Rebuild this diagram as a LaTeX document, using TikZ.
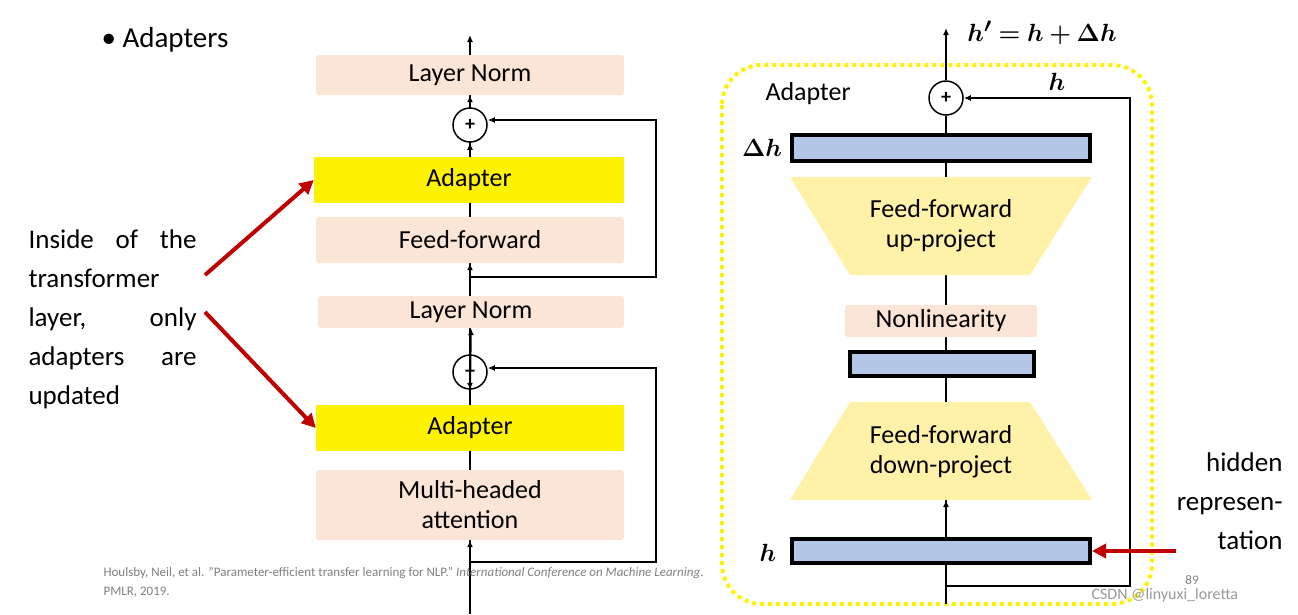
\documentclass[tikz,border=0pt]{standalone}
\usepackage{amsmath,bm}
\usepackage{fontspec}
\setmainfont{Carlito}
\usetikzlibrary{arrows.meta}
\definecolor{peach}{HTML}{FBE5D6}
\definecolor{ylw}{HTML}{FFF200}
\definecolor{lyel}{HTML}{FFF2A8}
\definecolor{lblue}{HTML}{B4C7E7}
\definecolor{darkred}{HTML}{C00000}
\begin{document}
\begin{tikzpicture}[x=1pt,y=-1pt,
 txt/.style={font=\fontsize{26}{28}\selectfont},
 pbox/.style={fill=peach,draw=none,rounded corners=3pt,txt},
 ybox/.style={fill=ylw,draw=none,txt},
 bbox/.style={fill=lblue,draw=black,line width=4pt},
 plus/.style={circle,draw=black,line width=1.5pt,fill=white,minimum size=34pt,inner sep=0pt,font=\bfseries\fontsize{20}{20}\selectfont},
 ln/.style={line width=1.6pt},
 arr/.style={ln,-{Latex[length=7pt,width=6pt]}},
 redarr/.style={line width=4pt,darkred,-{Triangle[length=14pt,width=14pt]}},
 trap/.style={fill=lyel,draw=none}]
\useasboundingbox (0,0) rectangle (1298,614);
\fill[white] (0,0) rectangle (1298,614);
% left column
\coordinate (lb) at (470,614);
\coordinate (lt) at (470,35);
\draw[arr] (lb) -- (lt);
\node[pbox,minimum width=308pt,minimum height=40pt] (ln1) at (470,75) {Layer Norm};
\node[plus] (p1) at (470,125) {+};
\node[ybox,minimum width=310pt,minimum height=46pt] (ad1) at (469,180) {Adapter};
\node[pbox,minimum width=308pt,minimum height=46pt] (ff) at (470,240) {Feed-forward};
\node[pbox,minimum width=306pt,minimum height=32pt] (ln2) at (471,312) {Layer Norm};
\node[plus] (p2) at (470,372) {+};
\node[ybox,minimum width=308pt,minimum height=46pt] (ad2) at (470,428) {Adapter};
\node[pbox,minimum width=308pt,minimum height=70pt,align=center] (mh) at (470,505) {Multi-headed\\[2pt]attention};
\draw[arr] (470,105) -- (ln1.south);
\draw[arr] (470,157) -- (p1.south);
\draw[arr] (470,277) -- (ff.south);
\draw[arr] (470,350) -- (p2.south);
\draw[arr] (470,405) -- (ln2.south);
\draw[arr] (470,562) -- (mh.south);
\coordinate (s1a) at (470,277); \coordinate (s1b) at (656,277); \coordinate (s1c) at (656,120);
\draw[arr] (s1a) -- (s1b) -- (s1c) -- (p1.east|-s1c);
\coordinate (s2a) at (470,562); \coordinate (s2b) at (656,562); \coordinate (s2c) at (656,368);
\draw[arr] (s2a) -- (s2b) -- (s2c) -- (p2.east|-s2c);
\node[anchor=west,font=\fontsize{29}{30}\selectfont] (title) at (98,40) {\textbullet\ Adapters};
\node[anchor=north west,align=justify,text width=168pt,font=\fontsize{27}{39}\selectfont] (side) at (25,226) {Inside of the transformer layer,\ \ only adapters are updated};
\coordinate (ra) at (205,275); \coordinate (rb) at (205,312);
\draw[redarr] (ra) -- (ad1.west);
\draw[redarr] (rb) -- (ad2.west);
\node[anchor=west,align=left,text=gray,font=\fontsize{13}{19}\selectfont] (cite) at (100,582) {Houlsby, Neil, et al. "Parameter-efficient transfer learning for NLP." \textit{International Conference on Machine Learning}.\\PMLR, 2019.};
% right
\draw[ylw,line width=4pt,dash pattern=on 4pt off 4pt,rounded corners=40pt] (722,65) rectangle (1152,604);
\node[anchor=west,txt] (adlab) at (762,94) {Adapter};
\node[plus] (p3) at (946,98) {+};
\coordinate (rt) at (946,28);
\draw[arr] (p3.north) -- (rt);
\node[font=\fontsize{28}{28}\selectfont] (eq) at (1042,33) {$\bm{h' = h + \Delta h}$};
\coordinate (rbot) at (946,604);
\draw[ln] (rbot) -- (p3.south);
\node[bbox,minimum width=298pt,minimum height=26pt] (dh) at (941,148) {};
\fill[lyel] (790,177) -- (1092,177) -- (1030,275) -- (850,275) -- cycle;
\node[txt,align=center] (up) at (941,226) {Feed-forward\\[2pt]up-project};
\node[pbox,minimum width=192pt,minimum height=32pt] (nl) at (941,321) {Nonlinearity};
\node[bbox,minimum width=184pt,minimum height=24pt] (mid) at (942,364) {};
\fill[lyel] (850,402) -- (1030,402) -- (1092,500) -- (790,500) -- cycle;
\node[txt,align=center] (down) at (941,452) {Feed-forward\\[2pt]down-project};
\draw[arr] (946,520) -- (946,500);
\node[bbox,minimum width=298pt,minimum height=24pt] (hb) at (941,551) {};
\coordinate (k1) at (946,586); \coordinate (k2) at (1130,586); \coordinate (k3) at (1130,98);
\draw[arr] (k1) -- (k2) -- (k3) -- (p3.east);
\node[font=\fontsize{28}{28}\selectfont] (hl) at (1057,82) {$\bm{h}$};
\node[font=\fontsize{28}{28}\selectfont] (hl2) at (768,553) {$\bm{h}$};
\node[font=\fontsize{28}{28}\selectfont] (dhl) at (762,148) {$\bm{\Delta h}$};
\coordinate (hr) at (1176,551);
\draw[redarr] (hr) -- (hb.east);
\node[anchor=east,align=right,font=\fontsize{27}{39}\selectfont] (hid) at (1286,501) {hidden\\represen-\\tation};
\node[text=gray,font=\fontsize{13}{13}\selectfont] (pg) at (1192,580) {89};
\node[anchor=west,text=gray!80,font=\fontsize{16}{16}\selectfont] (wm) at (1088,595) {CSDN @linyuxi\_loretta};
\end{tikzpicture}
\end{document}
